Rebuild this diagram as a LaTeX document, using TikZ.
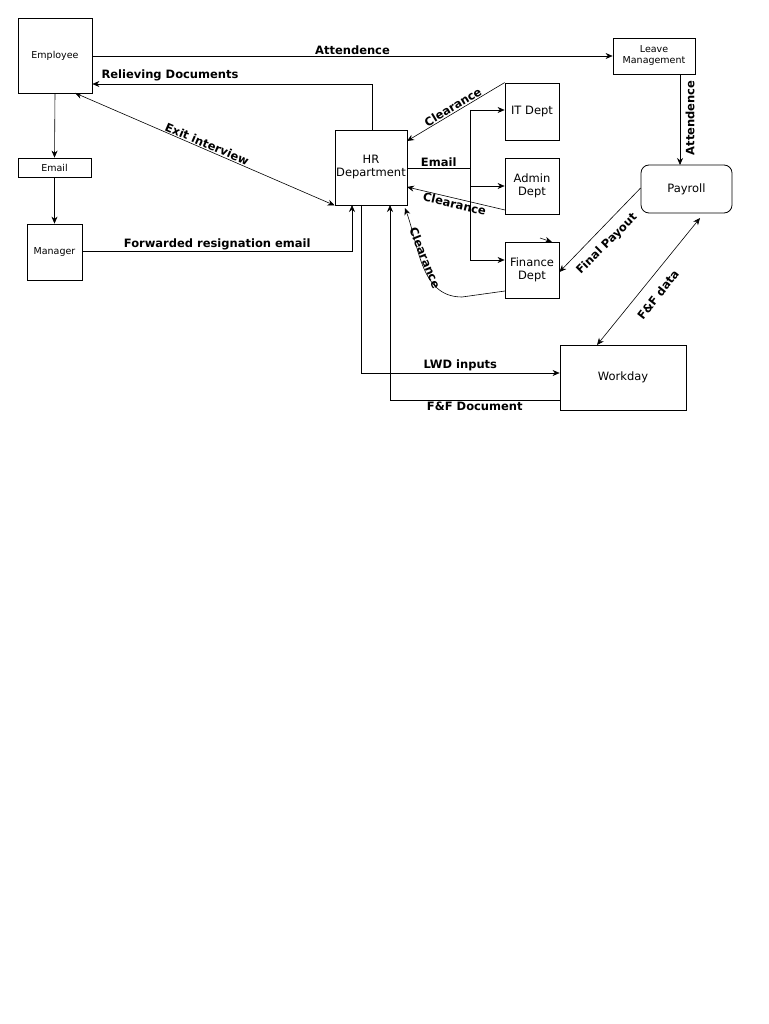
\documentclass[tikz,border=0pt]{standalone}
\usepackage{fontspec}
\setmainfont{DejaVu Sans}
\usetikzlibrary{arrows.meta}
\begin{document}
\begin{tikzpicture}[x=1pt,y=-1pt,
 box/.style={draw,thick,inner sep=0pt,align=center,font=\fontsize{11.5}{13}\selectfont},
 sbox/.style={box,font=\fontsize{9.5}{11}\selectfont},
 lbl/.style={font=\bfseries\fontsize{11.5}{13}\selectfont,inner sep=1pt},
 ar/.style={semithick,-{Stealth[length=7pt,width=6pt]}},
 dar/.style={semithick,{Stealth[length=7pt,width=6pt]}-{Stealth[length=7pt,width=6pt]}}]
\useasboundingbox[fill=white] (0,0) rectangle (768,1024);
\node[sbox,minimum width=74,minimum height=75] (emp) at (55,55.5) {Employee};
\node[sbox,minimum width=73,minimum height=19] (email) at (54.5,167.5) {Email};
\node[sbox,minimum width=55,minimum height=56] (mgr) at (54.5,252) {Manager};
\node[box,minimum width=72,minimum height=75] (hr) at (371,167.5) {HR\\Department};
\node[box,minimum width=54,minimum height=57] (it) at (532,111.5) {IT Dept};
\node[box,minimum width=54,minimum height=56] (adm) at (532,186) {Admin\\Dept};
\node[box,minimum width=54,minimum height=56] (fin) at (532,270) {Finance\\Dept};
\node[sbox,minimum width=82,minimum height=36] (leave) at (654,56) {Leave\\Management};
\node[box,rounded corners=8pt,minimum width=91,minimum height=48] (pay) at (686.5,189) {Payroll};
\node[box,minimum width=126,minimum height=65] (wd) at (623,377.5) {Workday};
% edges
\draw[ar] (emp.east |- 0,56) -- node[lbl,above]{Attendence} (leave.west |- 0,56);
\draw[ar] (hr.north -| 372,0) -- (372,84) -- (emp.east |- 0,84);
\node[lbl] at (170,75) {Relieving Documents};
\draw[dar] (75,93) -- node[lbl,above,sloped]{Exit interview} (hr.south west);
\draw[ar] (emp.south) -- (email.north);
\draw[ar] (email.south) -- (mgr.north);
\draw[ar] (mgr.east |- 0,251) -- node[lbl,above]{Forwarded resignation email} (352,251) -- (352,205);
\coordinate (br) at (470,168);
\draw[semithick] (hr.east |- br) -- node[lbl,above]{Email} (br);
\draw[semithick] (470,110) -- (470,260);
\draw[ar] (470,110) -- (it.west |- 0,110);
\draw[ar] (470,186) -- (adm.west |- 0,186);
\draw[ar] (470,260) -- (fin.west |- 0,260);
\draw[ar] (it.north west) -- node[lbl,above,sloped]{Clearance} (407,141);
\draw[ar] (505,210) -- node[lbl,below,sloped]{Clearance} (407,187);
\draw[ar] (505,291) -- (462,297) to[out=180,in=-70] (405,208);
\node[lbl,rotate=-68] at (425,258) {Clearance};
\draw[ar] (540,238) -- (552,242);
\draw[ar] (leave.south -| 680,0) -- (680,165);
\node[lbl,rotate=90] at (690,118) {Attendence};
\draw[ar] (pay.west |- 0,188) -- (fin.east |- 0,272);
\node[lbl,rotate=45] at (607,244) {Final Payout};
\draw[dar] (700,218) -- (597,345);
\node[lbl,rotate=52] at (658,295) {F\&F data};
\draw[ar] (361,205) -- (361,373) -- node[lbl,above,yshift=1pt]{LWD inputs} (wd.west |- 0,373);
\draw[ar] (wd.west |- 0,400) -- node[lbl,below,yshift=-1pt]{F\&F Document} (390,400) -- (390,205);
\end{tikzpicture}
\end{document}
